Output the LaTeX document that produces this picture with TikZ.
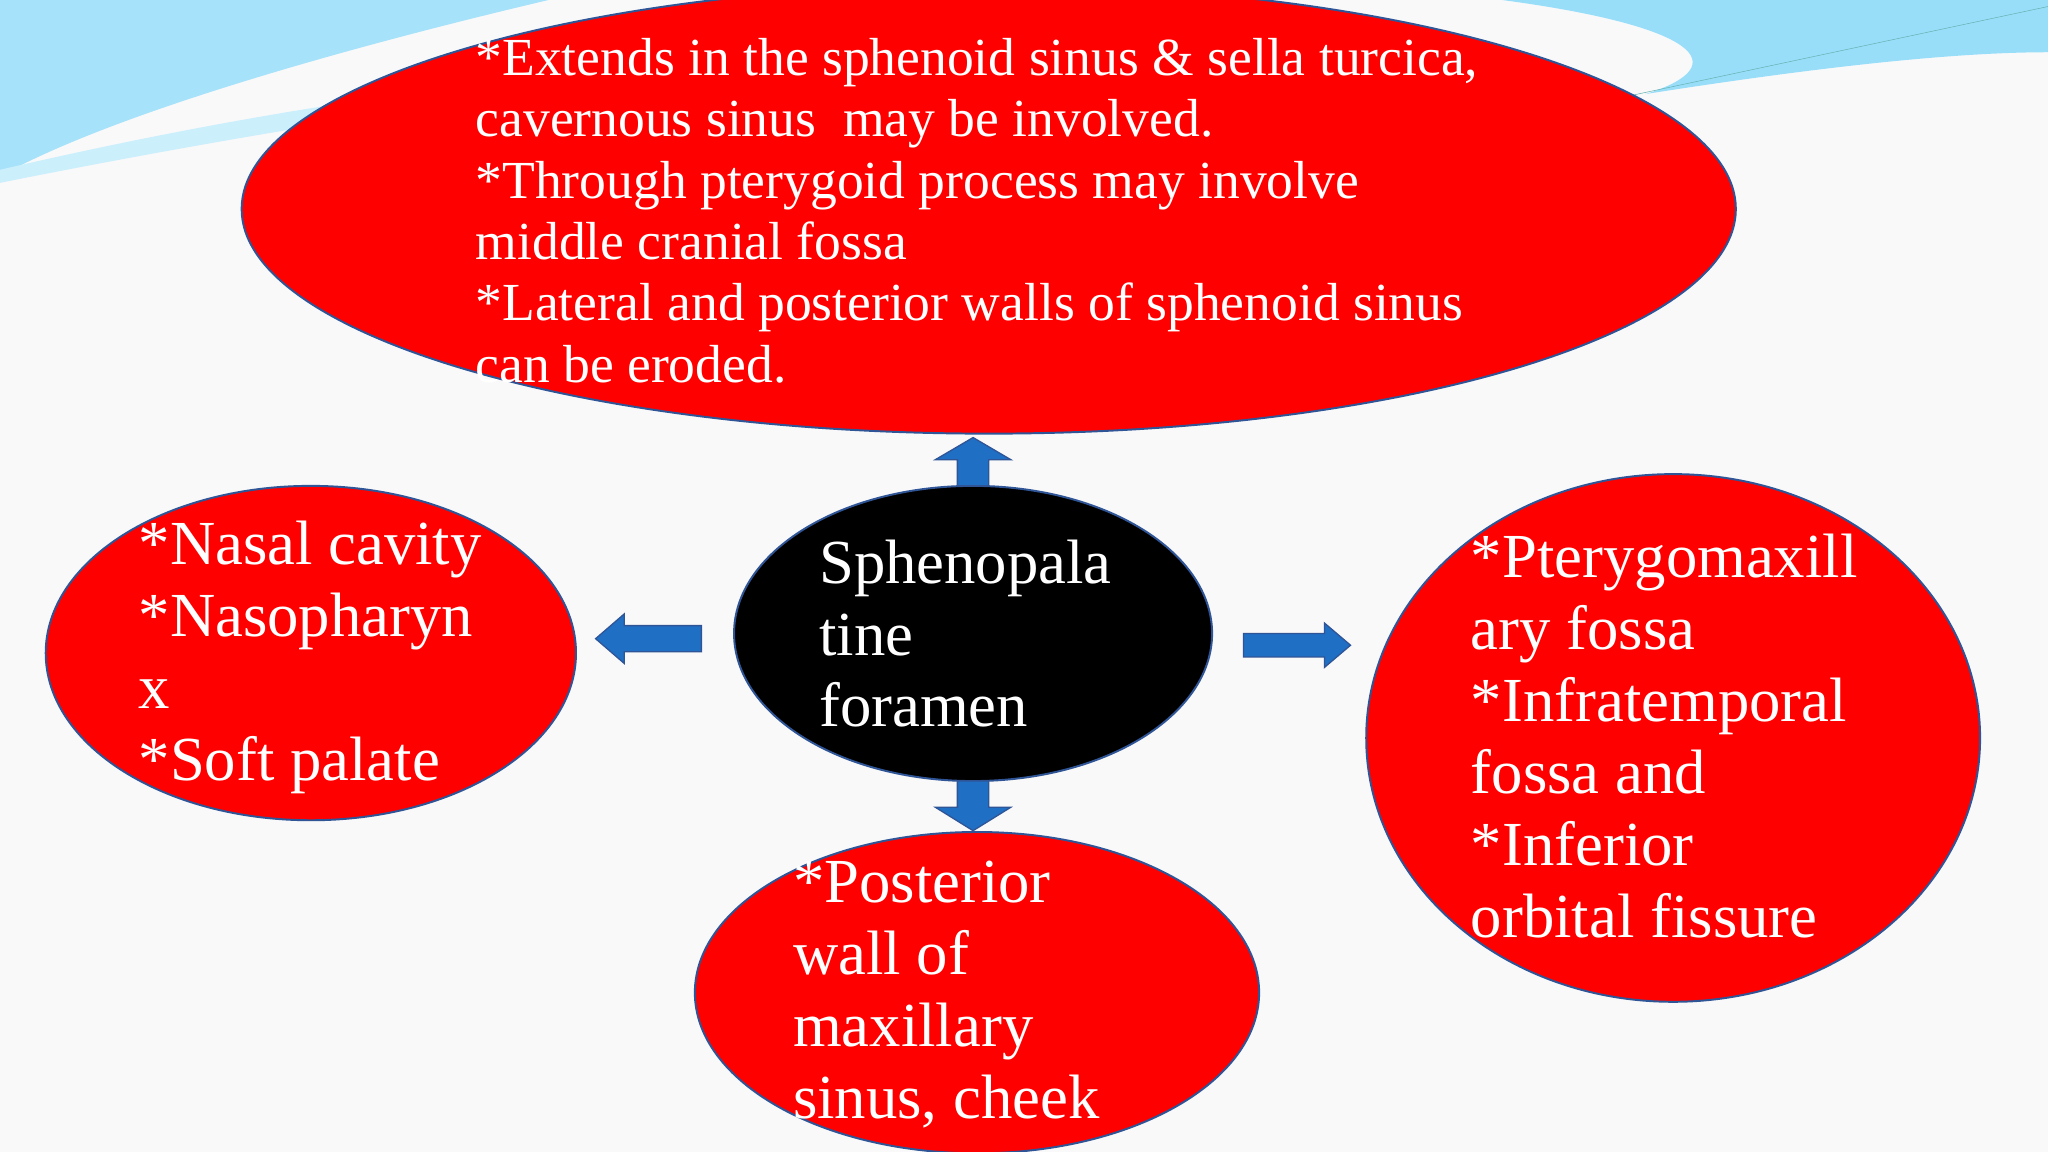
\documentclass[tikz,border=0pt]{standalone}
\usepackage{fontspec}
\setmainfont{Liberation Serif}
\usetikzlibrary{shapes.geometric}
\definecolor{redf}{HTML}{FF0000}
\definecolor{edge}{HTML}{2F5597}
\definecolor{arr}{HTML}{1F6FC5}
\tikzset{
 ell/.style={ellipse,draw=edge,line width=1.5pt,fill=redf,inner sep=0pt},
 big/.style={anchor=north west,inner sep=0pt,align=left,text=white,font=\fontsize{48}{55}\selectfont},
 small/.style={anchor=north west,inner sep=0pt,align=left,text=white,font=\fontsize{41}{47}\selectfont},
 barrow/.style={draw=edge,fill=arr,line width=1pt,line join=miter}
}
\begin{document}
\begin{tikzpicture}[x=1pt,y=-1pt]
\useasboundingbox (0,0) rectangle (1568,882);
\fill[gray!5] (0,0) rectangle (1568,882);
\fill[cyan!35] (0,0) -- (420,0) .. controls (250,40) and (80,90) .. (0,135) -- cycle;
\fill[cyan!20] (0,130) .. controls (150,95) and (300,70) .. (420,60) -- (420,70) .. controls (300,85) and (150,110) .. (0,140) -- cycle;
\fill[cyan!40] (1568,0) -- (1150,0) .. controls (1300,20) and (1330,50) .. (1260,72) .. controls (1400,50) and (1500,40) .. (1568,40) -- cycle;
\draw[teal!60] (1240,75) -- (1568,5);
\node[ell,minimum width=1144pt,minimum height=344pt] (top) at (757,160) {};
\node[ell,minimum width=406pt,minimum height=256pt] (left) at (238,500) {};
\node[ell,minimum width=470pt,minimum height=404pt] (right) at (1281,565) {};
\node[ell,minimum width=432pt,minimum height=246pt] (bot) at (748,760) {};
\node[ell,fill=black,minimum width=366pt,minimum height=226pt] (ctr) at (745,485) {};
\draw[barrow] (733,372) -- (733,352) -- (716,352) -- (745,335) -- (774,352) -- (757,352) -- (757,372) -- cycle;
\draw[barrow] (733,598) -- (733,618) -- (716,618) -- (745,636) -- (774,618) -- (757,618) -- (757,598) -- cycle;
\draw[barrow] (537,479) -- (478,479) -- (478,470) -- (456,489) -- (478,508) -- (478,499) -- (537,499) -- cycle;
\draw[barrow] (952,485) -- (1014,485) -- (1014,477) -- (1034,494) -- (1014,511) -- (1014,503) -- (952,503) -- cycle;
\node[small] (ttop) at (364,29) {*Extends in the sphenoid sinus \& sella turcica,\\cavernous sinus\ \ may be involved.\\*Through pterygoid process may involve\\middle cranial fossa\\*Lateral and posterior walls of sphenoid sinus\\can be eroded.};
\node[big] (tctr) at (627,413) {Sphenopala\\tine\\foramen};
\node[big] (tleft) at (106,399) {*Nasal cavity\\*Nasopharyn\\x\\*Soft palate};
\node[big] (tright) at (1126,409) {*Pterygomaxill\\ary fossa\\*Infratemporal\\fossa and\\*Inferior\\orbital fissure};
\node[big] (tbot) at (607,659) {*Posterior\\wall of\\maxillary\\sinus, cheek};
\end{tikzpicture}
\end{document}
